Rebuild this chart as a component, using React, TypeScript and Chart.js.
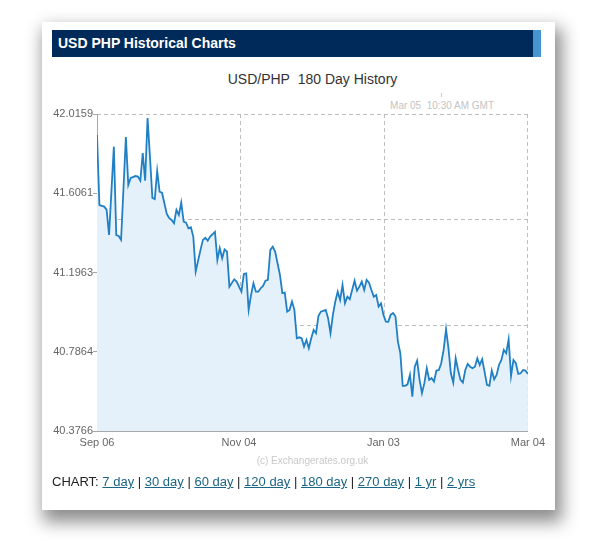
import { useEffect, useRef } from "react";
import { Chart } from "chart.js/auto";

// days since Sep 06 (2012), one entry per quote
const dayOffsets = [
  0, 1, 3, 4, 5, 7, 8, 9, 10, 12, 13, 14, 16, 17, 18, 19, 20, 21, 22, 23, 24, 25, 26, 27,
  29, 30, 31, 32, 33, 34, 35, 36, 37, 38, 39, 40, 41, 43, 44, 45, 46, 47, 48, 49, 50, 51,
  52, 53, 54, 55, 57, 58, 60, 61,
  62, 63, 64, 65, 66, 67, 68, 69, 70, 71, 72, 73, 74, 75, 76, 77, 78, 79, 80, 81, 82, 83,
  84, 85, 86, 87, 88, 89, 90, 91, 92,
  93, 95, 96, 97, 98, 99, 100, 101, 102, 103, 104, 105, 107, 108, 109, 110, 111, 112, 113,
  114, 115, 116, 117, 118, 119, 120, 121, 122, 123, 124,
  125, 126, 127, 128, 129, 130, 131, 132, 133, 134, 135, 136, 137, 138, 139, 140, 141, 142,
  143, 144, 145, 146, 147, 148, 149,
  150, 151, 152, 153, 154, 155, 156, 157, 158, 159, 160, 161, 162, 163, 164, 165, 166, 167,
  168, 169, 170, 171, 172, 173, 174, 175, 176, 177, 178, 179,
];

const rates = [
  41.907, 41.545, 41.537, 41.52, 41.39, 41.847, 41.39, 41.385, 41.365, 41.897, 41.649, 41.685,
  41.695, 41.692, 41.671, 41.814, 41.671, 41.995, 41.795, 41.582, 41.576, 41.721, 41.614, 41.609,
  41.499, 41.477, 41.468, 41.451, 41.52, 41.494, 41.557, 41.459, 41.454, 41.425, 41.43, 41.382,
  41.201, 41.313, 41.365, 41.376, 41.361, 41.382, 41.394, 41.407, 41.261, 41.322, 41.27, 41.316,
  41.304, 41.123, 41.161, 41.149, 41.097, 41.189,
  41.192, 41.003, 41.08, 41.141, 41.097, 41.097, 41.115, 41.127, 41.154, 41.158, 41.313, 41.33,
  41.304, 41.244, 41.184, 41.089, 41.092, 40.994, 41.003, 41.046, 41.003, 40.856, 40.861, 40.856,
  40.813, 40.848, 40.805, 40.856, 40.899, 40.882, 40.972,
  40.994, 41.003, 40.96, 40.882, 40.977, 41.046, 41.097, 41.054, 41.132, 41.037, 41.071, 41.058,
  41.154, 41.102, 41.123, 41.149, 41.106, 41.158, 41.144, 41.106, 41.071, 41.08, 41.02, 41.037,
  40.977, 40.942, 40.941, 40.977, 40.987, 40.969,
  40.839, 40.779, 40.61, 40.61, 40.618, 40.667, 40.554, 40.709, 40.741, 40.641, 40.572, 40.624,
  40.701, 40.641, 40.65, 40.632, 40.689, 40.692, 40.727, 40.796, 40.903, 40.805, 40.675, 40.627,
  40.753,
  40.692, 40.641, 40.627, 40.692, 40.723, 40.709, 40.701, 40.709, 40.753, 40.718, 40.748, 40.684,
  40.615, 40.61, 40.689, 40.644, 40.667, 40.718, 40.744, 40.796, 40.779, 40.851, 40.661, 40.744,
  40.727, 40.672, 40.675, 40.692, 40.689, 40.672,
];

const startDate = new Date(2012, 8, 6);
const lastDay = 179;
const xTickDays = [0, 59, 119, 179];
const yTicks = [40.3766, 40.7864, 41.1963, 41.6061, 42.0159];
const periodLinks = ["7 day", "30 day", "60 day", "120 day", "180 day", "270 day", "1 yr", "2 yrs"];

const MONTHS = ["Jan", "Feb", "Mar", "Apr", "May", "Jun", "Jul", "Aug", "Sep", "Oct", "Nov", "Dec"];
const FONT = "'Liberation Sans', Arial, Helvetica, sans-serif";

function dayLabel(offset: number) {
  const d = new Date(startDate.getTime());
  d.setDate(d.getDate() + offset);
  return MONTHS[d.getMonth()] + " " + String(d.getDate()).padStart(2, "0");
}

function RateChart() {
  const canvasRef = useRef<HTMLCanvasElement>(null);

  useEffect(() => {
    if (!canvasRef.current) return;
    const yMin = yTicks[0];
    const yMax = yTicks[yTicks.length - 1];
    const yRange = yMax - yMin;

    const chart = new Chart(canvasRef.current, {
      type: "line",
      data: {
        datasets: [
          {
            data: dayOffsets.map((d, i) => ({ x: d, y: rates[i] })),
            borderColor: "#2180c4",
            borderWidth: 1.8,
            backgroundColor: "#e4f0fa",
            fill: "start",
            pointRadius: 0,
            tension: 0,
          },
        ],
      },
      options: {
        animation: false,
        responsive: true,
        maintainAspectRatio: false,
        layout: { padding: { top: 52, right: 17, left: 0, bottom: 0 } },
        scales: {
          x: {
            type: "linear",
            min: 0,
            max: lastDay,
            z: 1,
            afterBuildTicks: (scale) => {
              scale.ticks = xTickDays.map((v) => ({ value: v }));
            },
            afterFit: (scale) => {
              scale.height = 41;
            },
            grid: { display: false, drawTicks: false, tickLength: 0 },
            border: { display: true, color: "#a8a8a8", width: 1 },
            ticks: {
              maxRotation: 0,
              autoSkip: false,
              padding: 5,
              color: "#666",
              font: { family: FONT, size: 11 },
              callback: (v) => dayLabel(Number(v)),
            },
          },
          xg: {
            type: "linear",
            position: "bottom",
            min: 0,
            max: lastDay,
            afterBuildTicks: (scale) => {
              scale.ticks = [1, 2, 3].map((k) => ({ value: (lastDay * k) / 3 }));
            },
            afterFit: (scale) => {
              scale.height = 0;
            },
            ticks: { display: false },
            grid: { color: "#bdbdbd", lineWidth: 1, drawTicks: false },
            border: { display: false, dash: [4, 3] },
          },
          y: {
            type: "linear",
            position: "left",
            min: yMin,
            max: yMax,
            z: 1,
            afterBuildTicks: (scale) => {
              scale.ticks = yTicks.map((v) => ({ value: v }));
            },
            afterFit: (scale) => {
              scale.width = 45;
            },
            grid: { drawOnChartArea: false, drawTicks: true, tickLength: 4, color: "#a8a8a8" },
            border: { display: true, color: "#a8a8a8", width: 1 },
            ticks: {
              padding: 0,
              autoSkip: false,
              color: "#666",
              font: { family: FONT, size: 11 },
              callback: (v) => Number(v).toFixed(4),
            },
          },
          yg: {
            type: "linear",
            position: "left",
            min: yMin,
            max: yMax,
            afterBuildTicks: (scale) => {
              scale.ticks = [1, 2, 3].map((k) => ({ value: yMin + (yRange * k) / 3 }));
            },
            afterFit: (scale) => {
              scale.width = 0;
            },
            ticks: { display: false },
            grid: { color: "#bdbdbd", lineWidth: 1, drawTicks: false },
            border: { display: false, dash: [4, 3] },
          },
        },
        plugins: {
          legend: { display: false },
          tooltip: { enabled: false },
        },
      },
    });
    return () => chart.destroy();
  }, []);

  return <canvas ref={canvasRef} />;
}

export default function App() {
  return (
    <div style={{ position: "absolute", left: 0, top: 0, width: 597, height: 554, background: "#fff", fontFamily: FONT }}>
      <div
        style={{
          position: "absolute",
          left: 42,
          top: 22,
          width: 513,
          height: 488,
          background: "#fff",
          boxShadow: "4px 9px 16px 3px rgba(0,0,0,0.45)",
        }}
      />
      <div
        style={{
          position: "absolute",
          left: 52,
          top: 30,
          width: 481,
          height: 27,
          background: "#002a5a",
          color: "#fff",
          fontWeight: "bold",
          fontSize: 14,
          lineHeight: "27px",
          paddingLeft: 6,
          boxSizing: "border-box",
        }}
      >
        USD PHP Historical Charts
      </div>
      <div style={{ position: "absolute", left: 533, top: 30, width: 8, height: 27, background: "#4495d2" }} />

      <div style={{ position: "absolute", left: 97, top: 71, width: 431, textAlign: "center", fontSize: 14, lineHeight: "16px", color: "#333" }}>
        USD/PHP&nbsp;&nbsp;180 Day History
      </div>
      <div style={{ position: "absolute", left: 441, top: 93, width: 1, height: 4, background: "#ccc" }} />
      <div style={{ position: "absolute", left: 300, top: 100, width: 194, textAlign: "right", fontSize: 10, lineHeight: "12px", color: "#c4c4c4", whiteSpace: "pre" }}>
        {"Mar 05  10:30 AM GMT"}
      </div>

      <div style={{ position: "absolute", left: 52, top: 62, width: 498, height: 410 }}>
        <RateChart />
      </div>

      <div style={{ position: "absolute", left: 97, top: 455, width: 431, textAlign: "center", fontSize: 10, lineHeight: "12px", color: "#c8c8c8" }}>
        (c) Exchangerates.org.uk
      </div>

      <div style={{ position: "absolute", left: 52, top: 474, fontSize: 13, lineHeight: "16px", color: "#222", whiteSpace: "nowrap" }}>
        CHART:{" "}
        {periodLinks.map((p, i) => (
          <span key={p}>
            <a href="#" style={{ color: "#1c6584", textDecoration: "underline" }} onClick={(e) => e.preventDefault()}>
              {p}
            </a>
            {i < periodLinks.length - 1 ? " | " : ""}
          </span>
        ))}
      </div>
    </div>
  );
}
